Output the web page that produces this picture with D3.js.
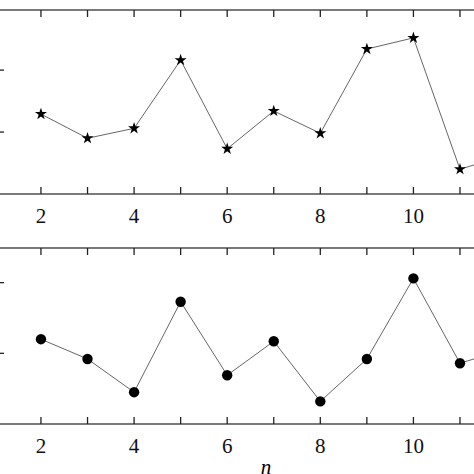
<!DOCTYPE html>
<html>
<head>
<script src="https://d3js.org/d3.v7.min.js"></script>
<style>
  body { margin: 0; background: #fff; }
  text { font-family: "Liberation Serif", "DejaVu Serif", serif; }
</style>
</head>
<body>
<svg id="frame" width="474" height="474"></svg>
<script>
  // data (y in arbitrary units, ticks at 1 and 2)
  var nValues = [2, 3, 4, 5, 6, 7, 8, 9, 10, 11, 12];
  var starValues = [1.29, 0.90, 1.06, 2.16, 0.73, 1.34, 0.98, 2.34, 2.52, 0.40, 0.63];
  var dotValues = [1.20, 0.92, 0.45, 1.73, 0.69, 1.17, 0.32, 0.92, 2.06, 0.86, 1.06];
  var xTickLabels = [2, 4, 6, 8, 10];
  var yTicks = [1, 2];

  var svg = d3.select('#frame');
  var x = d3.scaleLinear().domain([1, 13]).range([-5.6, 553.1]);
  var xTicks = d3.range(1, 14);

  // panel: top, bottom pixels, y max
  function panel(top, bottom, ymax, vals, marker) {
    var y = d3.scaleLinear().domain([0, ymax]).range([bottom, top]);
    var g = svg.append('g');

    g.append('rect')
      .attr('x', -2).attr('y', top)
      .attr('width', 600).attr('height', bottom - top)
      .attr('fill', 'none').attr('stroke', '#333').attr('stroke-width', 1.3);

    // x ticks, inward on top and bottom
    g.selectAll('.tb').data(xTicks).enter().append('line')
      .attr('x1', function(d){ return x(d); }).attr('x2', function(d){ return x(d); })
      .attr('y1', bottom).attr('y2', bottom - 7)
      .attr('stroke', '#222').attr('stroke-width', 1.3);
    g.selectAll('.tt').data(xTicks).enter().append('line')
      .attr('x1', function(d){ return x(d); }).attr('x2', function(d){ return x(d); })
      .attr('y1', top).attr('y2', top + 7)
      .attr('stroke', '#222').attr('stroke-width', 1.3);

    // y ticks
    g.selectAll('.yt').data(yTicks).enter().append('line')
      .attr('x1', -2).attr('x2', 4)
      .attr('y1', function(d){ return y(d); }).attr('y2', function(d){ return y(d); })
      .attr('stroke', '#222').attr('stroke-width', 1.3);

    g.selectAll('.xl').data(xTickLabels).enter().append('text')
      .attr('x', function(d){ return x(d); })
      .attr('y', bottom + 29)
      .attr('text-anchor', 'middle')
      .attr('font-size', 21)
      .attr('fill', '#111')
      .text(function(d){ return d; });

    var line = d3.line()
      .x(function(d, i){ return x(nValues[i]); })
      .y(function(d){ return y(d); });
    g.append('path').datum(vals)
      .attr('d', line).attr('fill', 'none')
      .attr('stroke', '#555').attr('stroke-width', 0.9);

    var sym = marker == 'star' ? d3.symbol().type(d3.symbolStar).size(45)
                               : d3.symbol().type(d3.symbolCircle).size(85);
    g.selectAll('.m').data(vals).enter().append('path')
      .attr('d', sym)
      .attr('transform', function(d, i){ return 'translate(' + x(nValues[i]) + ',' + y(d) + ')'; })
      .attr('fill', '#000');
  }

  panel(10, 194, 2.97, starValues, 'star');
  panel(248, 424, 2.49, dotValues, 'dot');

  svg.append('text')
    .attr('x', 266).attr('y', 474)
    .attr('text-anchor', 'middle')
    .attr('font-size', 21)
    .attr('font-style', 'italic')
    .text('n');
</script>
</body>
</html>
